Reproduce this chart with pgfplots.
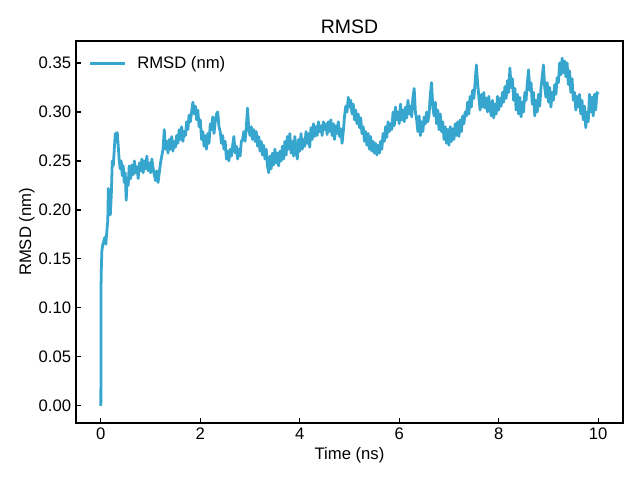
\documentclass[border=0pt]{standalone}
\usepackage{pgfplots}
\pgfplotsset{compat=1.18}
\usepackage{fontspec}
\setmainfont{Liberation Sans}
\definecolor{rmsdblue}{RGB}{55,166,206}
\begin{document}
\begin{tikzpicture}
\useasboundingbox (-54.7pt,-41pt) rectangle (406pt,304.5pt);
\begin{axis}[
  scale only axis,
  width=393.8pt, height=275pt,
  xmin=-0.5, xmax=10.5, ymin=-0.0175, ymax=0.3725,
  xtick={0,2,4,6,8,10},
  ytick={0,0.05,0.10,0.15,0.20,0.25,0.30,0.35},
  yticklabel style={/pgf/number format/.cd, fixed, fixed zerofill, precision=2},
  /pgf/number format/assume math mode=true,
  tick align=inside,
  xtick pos=bottom, ytick pos=left,
  major tick length=3.5pt,
  every tick/.style={black, line width=0.8pt},
  axis line style={line width=0.8pt},
  tick label style={font=\fontsize{12}{14}\selectfont},
  label style={font=\fontsize{12}{14}\selectfont},
  xlabel={Time (ns)}, ylabel={RMSD (nm)},
  xlabel style={yshift=1.5pt},
  ylabel style={yshift=-4pt},
  title={RMSD},
  title style={font=\fontsize{14}{16}\selectfont, yshift=-4pt},
  legend style={at={(0.015,0.975)}, anchor=north west, draw=none, fill=none,
    font=\fontsize{12}{14}\selectfont},
  legend image code/.code={\draw[#1] (0pt,0pt) -- (25pt,0pt); \path (31pt,0pt);},
]
\addplot[rmsdblue, line width=2pt, line join=round] coordinates {
(0,0) (0.005,0.125) (0.01,0.14) (0.02,0.158) (0.04,0.165) (0.06,0.168) (0.08,0.172) (0.10,0.165) (0.12,0.178) (0.14,0.19)
(0.15,0.222) (0.17,0.205) (0.19,0.195) (0.21,0.215) (0.23,0.25) (0.25,0.245) (0.27,0.262) (0.29,0.278) (0.31,0.27) (0.33,0.279)
(0.35,0.265) (0.37,0.25) (0.39,0.242) (0.41,0.25) (0.43,0.235) (0.45,0.245) (0.47,0.228) (0.49,0.238) (0.51,0.21) (0.53,0.232)
(0.55,0.225) (0.57,0.245)
(0.600,0.232) (0.625,0.246) (0.650,0.236) (0.675,0.250) (0.700,0.238) (0.725,0.244) (0.750,0.232) (0.775,0.248) (0.800,0.240) (0.825,0.252)
(0.850,0.238) (0.875,0.250) (0.900,0.242) (0.925,0.255) (0.950,0.240) (0.975,0.248) (1.000,0.238) (1.025,0.252) (1.050,0.243) (1.075,0.236)
(1.100,0.230) (1.125,0.240) (1.150,0.228) (1.175,0.238) (1.200,0.248) (1.225,0.255) (1.250,0.262) (1.275,0.282) (1.300,0.262) (1.325,0.270)
(1.350,0.258) (1.375,0.272) (1.400,0.262) (1.425,0.275) (1.450,0.260) (1.475,0.270) (1.500,0.264) (1.525,0.276) (1.550,0.268) (1.575,0.282)
(1.600,0.272) (1.625,0.285) (1.650,0.270) (1.675,0.280) (1.700,0.276) (1.725,0.290) (1.750,0.282) (1.775,0.297) (1.800,0.290) (1.825,0.300)
(1.850,0.310) (1.875,0.298) (1.900,0.306) (1.925,0.292) (1.950,0.302) (1.975,0.285) (2.000,0.292) (2.025,0.272) (2.050,0.280) (2.075,0.265)
(2.100,0.276) (2.125,0.262) (2.150,0.278) (2.175,0.268) (2.200,0.288) (2.225,0.282) (2.250,0.295) (2.275,0.278) (2.300,0.290) (2.325,0.298)
(2.350,0.300) (2.375,0.285) (2.400,0.280) (2.425,0.268) (2.450,0.276) (2.475,0.262) (2.500,0.270) (2.525,0.252) (2.550,0.260) (2.575,0.250)
(2.600,0.262) (2.625,0.255) (2.650,0.266) (2.675,0.275) (2.700,0.258) (2.725,0.265) (2.750,0.252) (2.775,0.262) (2.800,0.255) (2.825,0.270)
(2.850,0.272) (2.875,0.280) (2.900,0.270) (2.925,0.285) (2.950,0.304) (2.975,0.282) (3.000,0.276) (3.025,0.285) (3.050,0.272) (3.075,0.282)
(3.100,0.270) (3.125,0.280) (3.150,0.265) (3.175,0.275) (3.200,0.260) (3.225,0.270) (3.250,0.256) (3.275,0.266) (3.300,0.252) (3.325,0.262)
(3.350,0.245) (3.375,0.238) (3.400,0.255) (3.425,0.242) (3.450,0.258) (3.475,0.246) (3.500,0.262) (3.525,0.248) (3.550,0.258) (3.575,0.245)
(3.600,0.260) (3.625,0.250) (3.650,0.265) (3.675,0.252) (3.700,0.270) (3.725,0.256) (3.750,0.275) (3.775,0.262) (3.800,0.278) (3.825,0.258)
(3.850,0.270) (3.875,0.255) (3.900,0.275) (3.925,0.262) (3.950,0.252) (3.975,0.272) (4.000,0.260) (4.025,0.278) (4.050,0.262) (4.075,0.272)
(4.100,0.265) (4.125,0.280) (4.150,0.268) (4.175,0.278) (4.200,0.264) (4.225,0.284) (4.250,0.272) (4.275,0.288) (4.300,0.275) (4.325,0.285)
(4.350,0.276) (4.375,0.290) (4.400,0.280) (4.425,0.286) (4.450,0.276) (4.475,0.290) (4.500,0.282) (4.525,0.288) (4.550,0.277) (4.575,0.290)
(4.600,0.280) (4.625,0.292) (4.650,0.276) (4.675,0.288) (4.700,0.272) (4.725,0.286) (4.750,0.278) (4.775,0.290) (4.800,0.275) (4.825,0.283)
(4.850,0.268) (4.875,0.280) (4.900,0.296) (4.925,0.306) (4.950,0.300) (4.975,0.315) (5.000,0.305) (5.025,0.312) (5.050,0.298) (5.075,0.308)
(5.100,0.292) (5.125,0.302) (5.150,0.288) (5.175,0.298) (5.200,0.284) (5.225,0.294) (5.250,0.278) (5.275,0.285) (5.300,0.270) (5.325,0.280)
(5.350,0.266) (5.375,0.278) (5.400,0.262) (5.425,0.275) (5.450,0.260) (5.475,0.270) (5.500,0.258) (5.525,0.268) (5.550,0.256) (5.575,0.266)
(5.600,0.258) (5.625,0.270) (5.650,0.262) (5.675,0.278) (5.700,0.270) (5.725,0.285) (5.750,0.274) (5.775,0.290) (5.800,0.280) (5.825,0.288)
(5.850,0.282) (5.875,0.300) (5.900,0.286) (5.925,0.305) (5.950,0.292) (5.975,0.300) (6.000,0.288) (6.025,0.308) (6.050,0.292) (6.075,0.302)
(6.100,0.290) (6.125,0.305) (6.150,0.294) (6.175,0.312) (6.200,0.298) (6.225,0.306) (6.250,0.295) (6.275,0.315) (6.300,0.324) (6.325,0.300)
(6.350,0.292) (6.375,0.280) (6.400,0.296) (6.425,0.276) (6.450,0.290) (6.475,0.280) (6.500,0.295) (6.525,0.288) (6.550,0.300) (6.575,0.290)
(6.600,0.298) (6.625,0.318) (6.650,0.330) (6.675,0.305) (6.700,0.296) (6.725,0.310) (6.750,0.288) (6.775,0.302) (6.800,0.282) (6.825,0.298)
(6.850,0.280) (6.875,0.290) (6.900,0.272) (6.925,0.285) (6.950,0.268) (6.975,0.282) (7.000,0.266) (7.025,0.285) (7.050,0.270) (7.075,0.283)
(7.100,0.272) (7.125,0.288) (7.150,0.276) (7.175,0.290) (7.200,0.275) (7.225,0.292) (7.250,0.280) (7.275,0.296) (7.300,0.288) (7.325,0.300)
(7.350,0.296) (7.375,0.310) (7.400,0.298) (7.425,0.316) (7.450,0.305) (7.475,0.322) (7.500,0.314) (7.525,0.330) (7.550,0.348) (7.575,0.330)
(7.600,0.316) (7.625,0.302) (7.650,0.318) (7.675,0.305) (7.700,0.320) (7.725,0.304) (7.750,0.314) (7.775,0.300) (7.800,0.316) (7.825,0.304)
(7.850,0.296) (7.875,0.312) (7.900,0.294) (7.925,0.308) (7.950,0.298) (7.975,0.316) (8.000,0.302) (8.025,0.314) (8.050,0.306) (8.075,0.320)
(8.100,0.310) (8.125,0.326) (8.150,0.314) (8.175,0.332) (8.200,0.320) (8.225,0.345) (8.250,0.325) (8.275,0.334) (8.300,0.312) (8.325,0.324)
(8.350,0.302) (8.375,0.318) (8.400,0.298) (8.425,0.315) (8.450,0.295) (8.475,0.310) (8.500,0.300) (8.525,0.320) (8.550,0.312) (8.575,0.330)
(8.600,0.343) (8.625,0.322) (8.650,0.330) (8.675,0.308) (8.700,0.320) (8.725,0.296) (8.750,0.312) (8.775,0.300) (8.800,0.318) (8.825,0.306)
(8.850,0.325) (8.875,0.336) (8.900,0.348) (8.925,0.325) (8.950,0.315) (8.975,0.330) (9.000,0.310) (9.025,0.325) (9.050,0.305) (9.075,0.320)
(9.100,0.312) (9.125,0.328) (9.150,0.318) (9.175,0.335) (9.200,0.330) (9.225,0.350) (9.250,0.338) (9.275,0.355) (9.300,0.340) (9.325,0.352)
(9.350,0.336) (9.375,0.350) (9.400,0.328) (9.425,0.342) (9.450,0.320) (9.475,0.334) (9.500,0.312) (9.525,0.320) (9.550,0.302) (9.575,0.316)
(9.600,0.305) (9.625,0.318) (9.650,0.298) (9.675,0.312) (9.700,0.292) (9.725,0.306) (9.750,0.284) (9.775,0.300) (9.800,0.290) (9.825,0.318)
(9.850,0.300) (9.875,0.315) (9.900,0.296) (9.925,0.318) (9.950,0.302) (9.975,0.320) (10.000,0.318)
};
\addlegendentry{RMSD (nm)}
\end{axis}
\end{tikzpicture}
\end{document}
